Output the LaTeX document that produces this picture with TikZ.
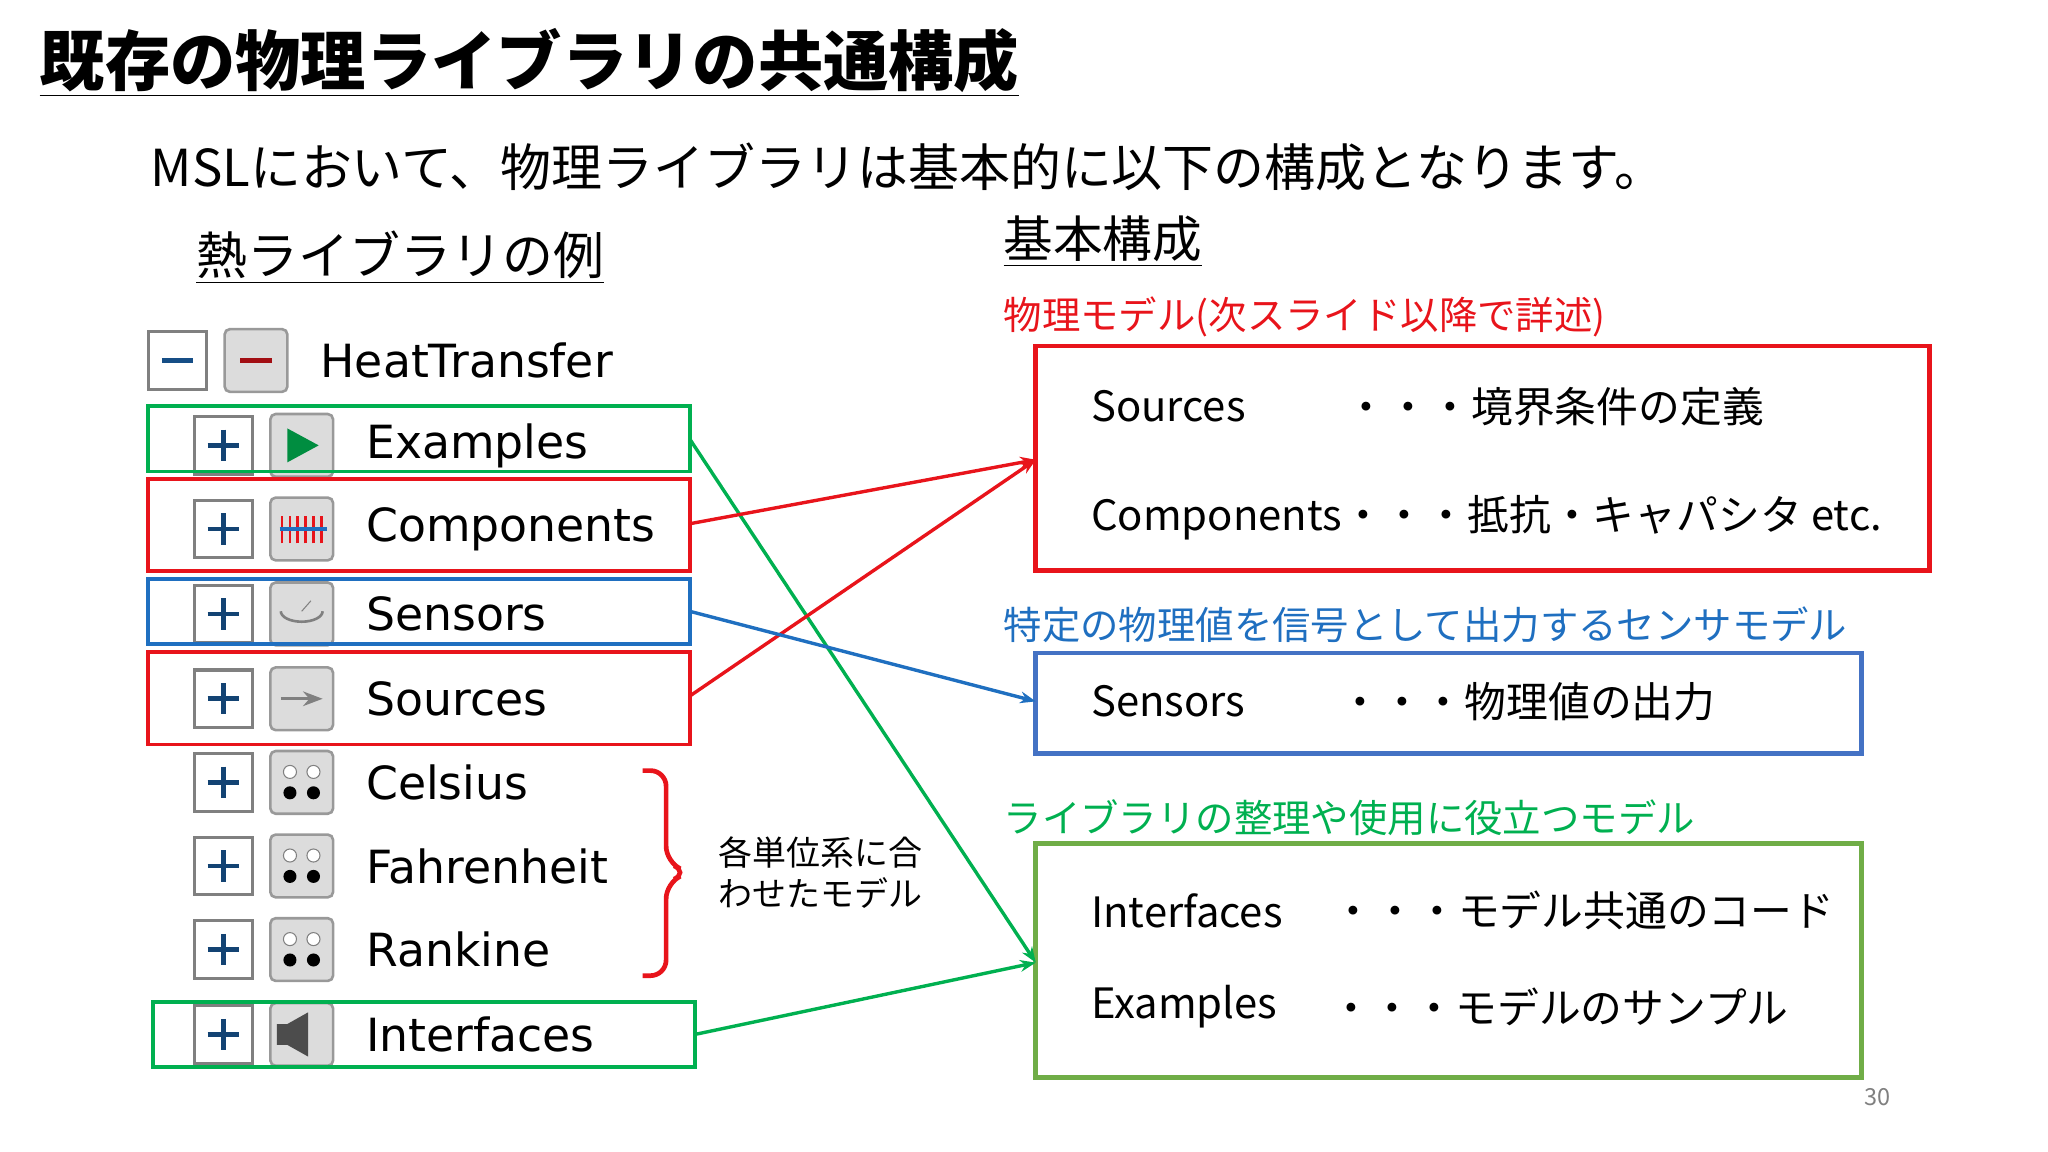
\documentclass[tikz,border=0pt]{standalone}
\usepackage{fontspec}
\setmainfont{Noto Sans CJK JP}
\newfontfamily\tree{DejaVu Sans}
\usetikzlibrary{arrows.meta}
\definecolor{rd}{HTML}{E8141B}
\definecolor{bl}{HTML}{1F6FC0}
\definecolor{gl}{HTML}{00B050}
\definecolor{gr}{HTML}{70AD47}
\definecolor{bl2}{HTML}{4472C4}
\definecolor{ic}{HTML}{DCDCDC}
\begin{document}
\begin{tikzpicture}[x=0.5pt,y=-0.5pt,
 lbl/.style={anchor=west,inner sep=0,font=\fontsize{14.7}{17}\selectfont},
 tr/.style={anchor=west,inner sep=0,font=\tree\fontsize{17.5}{20}\selectfont},
 rt/.style={anchor=west,inner sep=0,font=\fontsize{16}{18}\selectfont},
 pb/.style={draw=gray,fill=white,line width=1.2pt,minimum size=22pt,inner sep=0},
 ib/.style={draw=gray!80,fill=ic,rounded corners=2pt,line width=1pt,minimum size=24pt,inner sep=0},
 arr/.style={line width=1.3pt,-{Stealth[length=6pt]}}]
\useasboundingbox (0,0) rectangle (1568,882);
% titles
\node[anchor=west,inner sep=0,font=\fontsize{25}{28}\selectfont\bfseries] (title) at (30,48) {\underline{既存の物理ライブラリの共通構成}};
\node[anchor=west,inner sep=0,font=\fontsize{19.5}{22}\selectfont] (sub) at (115,128) {MSLにおいて、物理ライブラリは基本的に以下の構成となります。};
\node[anchor=west,inner sep=0,font=\fontsize{19.5}{22}\selectfont] (ex) at (150,197) {\underline{熱ライブラリの例}};
\node[anchor=west,inner sep=0,font=\fontsize{19}{22}\selectfont] (kh) at (768,185) {\underline{基本構成}};
% tree root
\node[pb] (m0) at (136,276) {};
\draw[line width=2pt,bl!70!black] (124,276) -- (148,276);
\node[ib] (i0) at (196,276) {};
\draw[line width=2pt,rd!70!black] (184,276) -- (208,276);
\node[tr,font=\tree\fontsize{17.5}{20}\selectfont] (ht) at (245,276) {HeatTransfer};
% rows
\foreach \n/\y in {Examples/341,Components/405,Sensors/470,Sources/535,Celsius/599,Fahrenheit/663,Rankine/727,Interfaces/792}{
 \node[pb] (p\n) at (171,\y) {};
 \draw[line width=1.8pt,bl!60!black] (159,\y) -- (183,\y) (171,\y-12) -- (171,\y+12);
 \node[ib] (i\n) at (231,\y) {};
 \node[tr] (t\n) at (280,\y) {\n};
}
\fill[gl!80!black] (220,328) -- (220,354) -- (244,341) -- cycle;
\draw[rd,line width=1pt] (214,395) grid[step=6] (250,416);
\draw[bl,line width=1.2pt] (214,405) -- (250,405);
\draw[gray,line width=1pt] (215,468) arc (180:0:16 and 8); \draw[gray] (231,468)--(238,460);
\draw[gray,-{Stealth},line width=1pt] (215,535) -- (247,535);
\foreach \y in {599,663,727}{
 \draw[gray,fill=white] (222,\y-8) circle (5); \draw[gray,fill=white] (240,\y-8) circle (5);
 \fill (222,\y+8) circle (5); \fill (240,\y+8) circle (5);}
\fill[gray!60!black] (212,784) rectangle (220,800) (220,784) -- (236,775) -- (236,809) -- (220,800) -- cycle;
% left boxes
\draw[gl,line width=1.5pt] (113,311) rectangle (528,361);
\draw[rd,line width=1.5pt] (113,367) rectangle (528,437);
\draw[bl,line width=1.5pt] (113,443) rectangle (528,493);
\draw[rd,line width=1.5pt] (113,499) rectangle (528,570);
\draw[gl,line width=1.5pt] (117,767) rectangle (532,817);
\coordinate (lE) at (528,336); \coordinate (lC) at (528,401); \coordinate (lSe) at (528,468);
\coordinate (lSo) at (528,533); \coordinate (lI) at (532,792);
% brace
\draw[rd,line width=1.8pt,rounded corners=6pt] (492,590) -- (510,590) -- (510,660) -- (527,668) -- (510,676) -- (510,747) -- (492,747);
\node[anchor=west,align=left,inner sep=0,font=\fontsize{13}{15.5}\selectfont] (bn) at (550,668) {各単位系に合\\わせたモデル};
% right
\node[lbl,text=rd] (l1) at (768,243) {物理モデル(次スライド以降で詳述)};
\draw[rd,line width=1.8pt] (793,265) rectangle (1477,437);
\node[rt] (s1) at (835,311) {Sources};
\node[rt] (s1b) at (1030,311) {・・・境界条件の定義};
\node[rt] (s2) at (835,396) {Components・・・抵抗・キャパシタ etc.};
\node[lbl,text=bl] (l2) at (768,478) {特定の物理値を信号として出力するセンサモデル};
\draw[bl2,line width=1.8pt] (793,500) rectangle (1425,577);
\node[rt] (s3) at (835,537) {Sensors};
\node[rt] (s3b) at (1025,537) {・・・物理値の出力};
\node[lbl,text=gl] (l3) at (768,626) {ライブラリの整理や使用に役立つモデル};
\draw[gr,line width=1.8pt] (793,646) rectangle (1425,825);
\node[rt] (s4) at (835,697) {Interfaces};
\node[rt] (s4b) at (1020,697) {・・・モデル共通のコード};
\node[rt] (s5) at (835,771) {Examples};
\node[rt] (s5b) at (1018,771) {・・・モデルのサンプル};
\node[anchor=west,inner sep=0,text=gray,font=\fontsize{9}{10}\selectfont] (pg) at (1427,840) {30};
\coordinate (rP) at (793,352); \coordinate (rS) at (793,537); \coordinate (rG) at (793,737);
% arrows
\draw[arr,gl] (lE) -- (rG);
\draw[arr,rd] (lC) -- (rP);
\draw[arr,rd] (lSo) -- (rP);
\draw[arr,bl] (lSe) -- (rS);
\draw[arr,gl] (lI) -- (rG);
\end{tikzpicture}
\end{document}
